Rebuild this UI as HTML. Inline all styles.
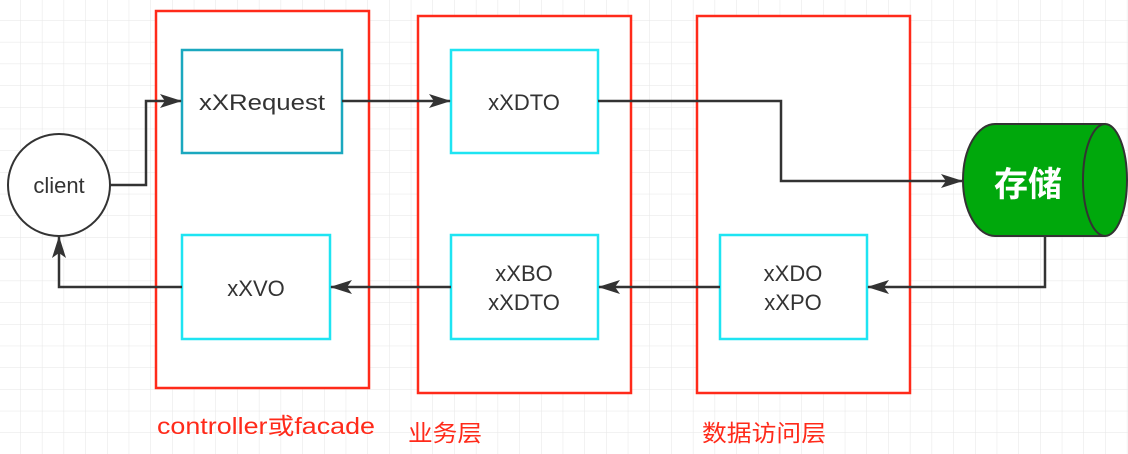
<!DOCTYPE html>
<html><head><meta charset="utf-8"><style>
html,body{margin:0;padding:0;width:1128px;height:454px;overflow:hidden;background:#fff}
svg text{font-family:"Liberation Sans","Noto Sans CJK SC",sans-serif}
</style></head><body>
<svg width="1128" height="454" viewBox="0 0 1128 454" xmlns="http://www.w3.org/2000/svg">
<defs>
<pattern id="g" width="21.7" height="21.7" patternUnits="userSpaceOnUse" x="-1" y="-1">
<path d="M21.7 0V21.7M0 21.7H21.7" stroke="#e6e6e6" stroke-width="1" fill="none"/>
</pattern>
<marker id="b" markerWidth="22" markerHeight="14" refX="21" refY="7" orient="auto" markerUnits="userSpaceOnUse"><path d="M0 0L22 7L0 14L5 7Z" fill="#333"/></marker>
</defs>
<rect width="1128" height="454" fill="url(#g)"/>
<g fill="#fff" stroke="#ff2a1a" stroke-width="2.5">
<rect x="156" y="11" width="213" height="377"/>
<rect x="418" y="16" width="213" height="377"/>
<rect x="697" y="16" width="213" height="377"/>
</g>
<g fill="#fff" stroke-width="2.5">
<rect x="182" y="50" width="160" height="103" stroke="#1ba8bf"/>
<rect x="182" y="235" width="148" height="104" stroke="#1ee4f2"/>
<rect x="451" y="50" width="147" height="103" stroke="#1ee4f2"/>
<rect x="451" y="235" width="147" height="104" stroke="#1ee4f2"/>
<rect x="720" y="235" width="147" height="104" stroke="#1ee4f2"/>
</g>
<circle cx="59" cy="185" r="51" fill="#fff" stroke="#333" stroke-width="2"/>
<g fill="none" stroke="#333" stroke-width="2.5">
<path d="M110 185H146V101H181" marker-end="url(#b)"/>
<path d="M342 101H450" marker-end="url(#b)"/>
<path d="M598 101H781V181H962" marker-end="url(#b)"/>
<path d="M1045 236V287H868" marker-end="url(#b)"/>
<path d="M720 287H599" marker-end="url(#b)"/>
<path d="M451 287H331" marker-end="url(#b)"/>
<path d="M182 287H59V237" marker-end="url(#b)"/>
</g>
<path d="M1105 124H995A32 56 0 0 0 995 236H1105" fill="#00a80c" stroke="#333" stroke-width="2"/>
<ellipse cx="1105" cy="180" rx="22" ry="56" fill="#00a80c" stroke="#333" stroke-width="2"/>
<g fill="#333" font-size="22" text-anchor="middle">
<text x="59" y="193">client</text>
<text x="262" y="110" textLength="126" lengthAdjust="spacingAndGlyphs">xXRequest</text>
<text x="256" y="296">xXVO</text>
<text x="524" y="110">xXDTO</text>
<text x="524" y="281">xXBO</text>
<text x="524" y="310">xXDTO</text>
<text x="793" y="281">xXDO</text>
<text x="793" y="310">xXPO</text>
</g>
<text x="1028" y="196" fill="#fff" font-size="34" font-weight="bold" text-anchor="middle">存储</text>
<g fill="#ff2a1a" font-size="23">
<text x="157" y="434" textLength="218" lengthAdjust="spacingAndGlyphs">controller或facade</text>
<text x="408" y="441" textLength="74" lengthAdjust="spacingAndGlyphs">业务层</text>
<text x="702" y="441" textLength="124" lengthAdjust="spacingAndGlyphs">数据访问层</text>
</g>
</svg>
</body></html>
